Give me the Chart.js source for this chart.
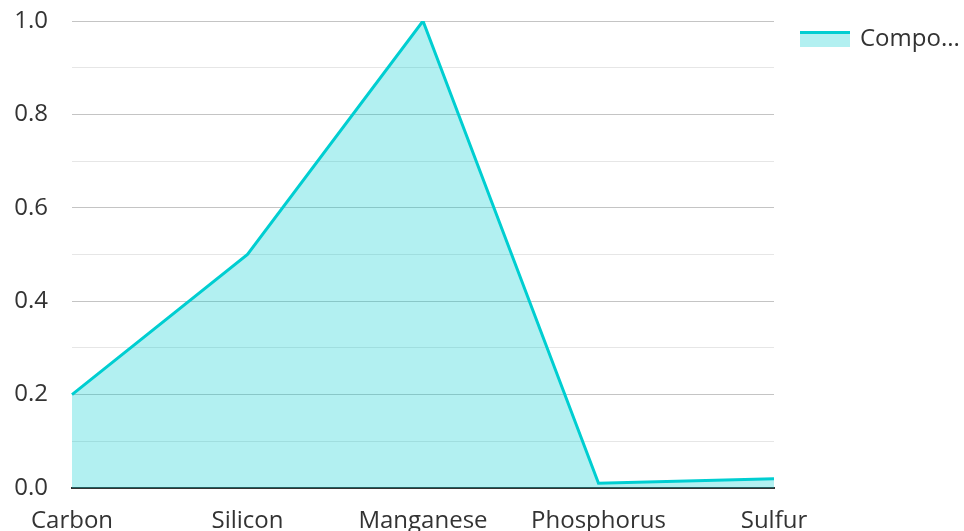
<!DOCTYPE html>
<html>
<head>
<meta charset="utf-8">
<script src="https://cdn.jsdelivr.net/npm/chart.js@4/dist/chart.umd.min.js"></script>
<style>
  html, body { margin: 0; padding: 0; background: #fff; }
  #wrap { width: 964px; height: 531px; position: relative; }
</style>
</head>
<body>
<div id="wrap"><canvas id="chart"></canvas></div>
<script>
const categories = ["Carbon", "Silicon", "Manganese", "Phosphorus", "Sulfur"];
const composition = [0.2, 0.5, 1.0, 0.01, 0.02];
const seriesName = "Composition";

const lineColor = "#00ced1";
const fillColor = "rgba(0, 206, 209, 0.3)";

// legend swatch: thick line on top of a light filled box
function makeSwatch() {
  const c = document.createElement("canvas");
  c.width = 50;
  c.height = 16;
  const g = c.getContext("2d");
  g.fillStyle = fillColor;
  g.fillRect(0, 0, 50, 16);
  g.fillStyle = lineColor;
  g.fillRect(0, 0, 50, 3);
  return c;
}

Chart.defaults.font.family = "'Open Sans', 'Noto Sans', sans-serif";
Chart.defaults.font.size = 24;
Chart.defaults.color = "#333";

new Chart(document.getElementById("chart"), {
  type: "line",
  data: {
    labels: categories,
    datasets: [{
      label: seriesName,
      data: composition,
      borderColor: lineColor,
      backgroundColor: fillColor,
      borderWidth: 3,
      fill: "origin",
      tension: 0,
      pointRadius: 0
    }]
  },
  options: {
    responsive: true,
    maintainAspectRatio: false,
    animation: false,
    layout: { padding: 0 },
    plugins: {
      tooltip: { enabled: false },
      legend: {
        position: "right",
        align: "start",
        maxWidth: 190,
        labels: {
          usePointStyle: true,
          pointStyle: makeSwatch(),
          pointStyleWidth: 47,
          boxHeight: 16,
          padding: 27,
          generateLabels: (chart) => {
            const items = Chart.defaults.plugins.legend.labels.generateLabels(chart);
            items.forEach(it => { it.text = it.text.slice(0, 5) + "..."; it.pointStyle = makeSwatch(); });
            return items;
          }
        }
      }
    },
    scales: {
      x: {
        offset: false,
        grid: { display: false },
        border: { color: "#333", width: 2 },
        ticks: { padding: 11, maxRotation: 0, autoSkip: false },
        afterFit: (s) => { s.height = 43; }
      },
      y: {
        min: 0,
        max: 1,
        border: { display: false },
        grid: {
          drawTicks: false,
          color: (ctx) => {
            const v = Math.round(ctx.tick.value * 10);
            return v % 2 === 0 ? "#c4c4c4" : "#e6e6e6";
          },
          lineWidth: 1
        },
        ticks: {
          stepSize: 0.1,
          padding: 24,
          callback: (value) => {
            const v = Math.round(value * 10);
            return v % 2 === 0 ? value.toFixed(1) : "";
          }
        },
        afterFit: (s) => { s.width = 72; s.paddingTop = 21; s.paddingBottom = 0; }
      }
    }
  }
});
</script>
</body>
</html>
